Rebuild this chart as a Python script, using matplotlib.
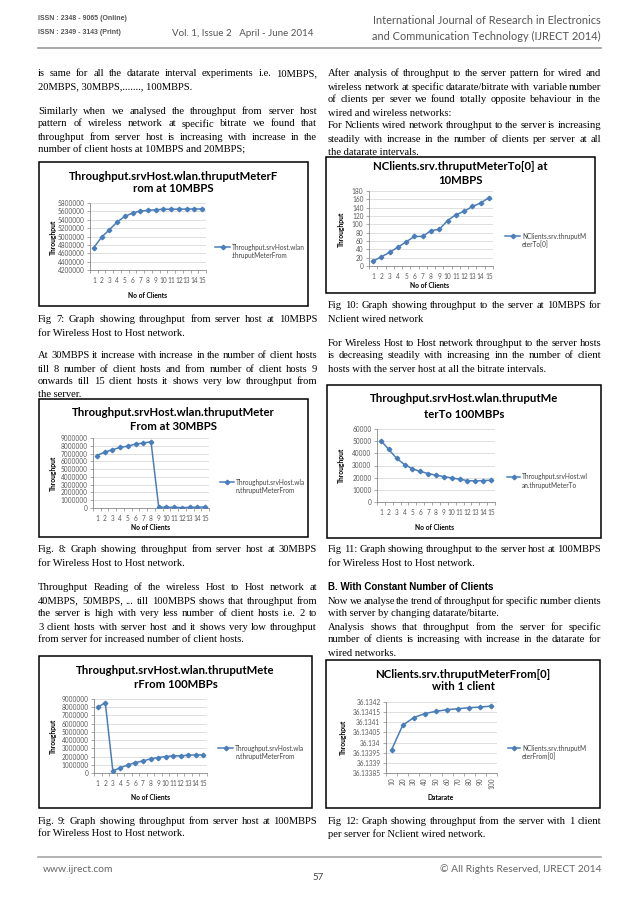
import matplotlib
matplotlib.use('Agg')
import matplotlib.pyplot as plt
from matplotlib.lines import Line2D
from matplotlib.patches import Rectangle
import numpy as np

# page size in pixels
W, H = 638, 902

# chart data
clients = list(range(1, 16))
from_10mbps = [4736000, 4984000, 5160000, 5344000, 5480000, 5560000, 5608000, 5624000,
               5640000, 5650000, 5652000, 5652000, 5655000, 5658000, 5658000]
to_10mbps_wired = [12, 22, 33, 45, 58, 71, 71, 85, 88, 109, 123, 131, 143, 151, 164]
from_30mbps = [6750000, 7180000, 7490000, 7790000, 7960000, 8220000, 8350000, 8520000,
               100000, 100000, 80000, 50000, 80000, 100000, 130000]
to_100mbps = [50400, 43200, 35800, 30800, 27300, 25100, 23400, 22000,
              20900, 19800, 18700, 17600, 17300, 17600, 17900]
from_100mbps = [8000000, 8550000, 250000, 650000, 980000, 1270000, 1470000, 1720000,
                1880000, 2000000, 2090000, 2090000, 2170000, 2200000, 2200000]
datarates = [10, 20, 30, 40, 50, 60, 70, 80, 90, 100]
from_1client = [36.133964, 36.134085, 36.134123, 36.134143, 36.134154,
                36.134162, 36.134167, 36.134172, 36.134175, 36.134180]

SERIF = 'Liberation Serif'
SANS = 'Lato'
BLUE = '#4a7ebb'
GREY = '#595959'
BODY = 8.0
MIN_GAP = 1.6

fig = plt.figure(figsize=(W / 100, H / 100), dpi=100)
renderer = fig.canvas.get_renderer()
body_lines = []   # (x, y, text, width or None)


def fx(x):
    return x / W


def fy(y):
    return 1 - y / H


def paragraph(x, ys, lines, width):
    # queue lines; all but the last are justified
    for i, (y, s) in enumerate(zip(ys, lines)):
        last = i == len(lines) - 1
        body_lines.append((x, y, s, None if last else width))


def word_widths(words, size):
    out = []
    for w in words:
        t = fig.text(0, 0, w, fontsize=size, family=SERIF)
        out.append(t.get_window_extent(renderer).width)
        t.remove()
    return out


def draw_body():
    # one font size for the whole page, small enough that every justified line fits
    size = BODY
    for x, y, s, width in body_lines:
        if width is None:
            continue
        words = s.split(' ')
        total = sum(word_widths(words, BODY))
        room = width - MIN_GAP * (len(words) - 1)
        size = min(size, BODY * room / total)
    for x, y, s, width in body_lines:
        if width is None:
            fig.text(fx(x), fy(y), s, fontsize=size, family=SERIF, va='center_baseline')
            continue
        words = s.split(' ')
        widths = word_widths(words, size)
        gap = (width - sum(widths)) / max(len(words) - 1, 1)
        pos = x
        for w, wd in zip(words, widths):
            fig.text(fx(pos), fy(y), w, fontsize=size, family=SERIF, va='center_baseline')
            pos += wd + gap


def hline(x0, x1, y, color, lw):
    fig.add_artist(Line2D([fx(x0), fx(x1)], [fy(y), fy(y)], transform=fig.transFigure,
                          color=color, lw=lw))


def chart(box, titles, title_ys, rect, cats, vals, ylim, step, fmt,
          ylab_xy, xlab_xy, leg, leg_text, xlabel='No of Clients', rotate=False):
    x0, y0, x1, y1 = box
    fig.add_artist(Rectangle((fx(x0), fy(y1)), (x1 - x0) / W, (y1 - y0) / H,
                             transform=fig.transFigure, fill=False, ec='black', lw=1.1))
    for t, ty in zip(titles, title_ys):
        fig.text(fx((x0 + x1) / 2), fy(ty), t, ha='center', va='center', fontsize=8.2,
                 family=SANS, fontweight='bold')
    l, r, t, b = rect
    ax = fig.add_axes([fx(l), fy(b), (r - l) / W, (b - t) / H])
    ax.patch.set_alpha(0)
    n = len(cats)
    ax.plot(range(n), vals, color=BLUE, lw=1.1, marker='D', ms=2.3, zorder=3)
    ax.set_xlim(-0.5, n - 0.5)
    ax.set_ylim(ylim)
    yt = np.arange(ylim[0], ylim[1] + step / 2, step)
    ax.set_yticks(yt)
    ax.set_yticklabels([fmt % v for v in yt], fontsize=4.7, color=GREY, family=SANS)
    ax.set_xticks(range(n))
    ax.set_xticklabels([str(c) for c in cats], fontsize=4.7, color=GREY, family=SANS,
                       rotation=90 if rotate else 0)
    ax.set_xticks(np.arange(-0.5, n), minor=True)
    ax.tick_params(axis='x', which='major', length=0, pad=3 if rotate else 5)
    ax.tick_params(axis='x', which='minor', length=2, width=0.5, color='#868686')
    ax.tick_params(axis='y', length=2, width=0.5, color='#868686', pad=2)
    ax.grid(axis='y', color='#d9d9d9', lw=0.6)
    ax.set_axisbelow(True)
    for s in ['top', 'right']:
        ax.spines[s].set_visible(False)
    for s in ['left', 'bottom']:
        ax.spines[s].set_color('#868686')
        ax.spines[s].set_linewidth(0.6)
    fig.text(fx(ylab_xy[0]), fy(ylab_xy[1]), 'Throughput', rotation=90, ha='center',
             va='center', fontsize=4.9, fontweight='bold', family=SANS)
    fig.text(fx(xlab_xy[0]), fy(xlab_xy[1]), xlabel, ha='center', va='center',
             fontsize=4.9, fontweight='bold', family=SANS)
    la, lb, ly = leg
    fig.add_artist(Line2D([fx(la), fx(lb)], [fy(ly), fy(ly)], transform=fig.transFigure,
                          color=BLUE, lw=1.1))
    fig.add_artist(Line2D([fx((la + lb) / 2)], [fy(ly)], transform=fig.transFigure,
                          color=BLUE, marker='D', ms=2.3))
    for i, s in enumerate(leg_text):
        fig.text(fx(lb + 2), fy(ly + i * 8.7), s, va='center', fontsize=4.7,
                 color='#404040', family=SANS)


# header
fig.text(fx(38), fy(19), 'ISSN : 2348 - 9065 (Online)', fontsize=5.0, fontweight='bold',
         color='#555555', family=['Liberation Sans Narrow', 'Liberation Sans'], va='center')
fig.text(fx(38), fy(32), 'ISSN : 2349 - 3143 (Print)', fontsize=5.0, fontweight='bold',
         color='#555555', family=['Liberation Sans Narrow', 'Liberation Sans'], va='center')
fig.text(fx(172), fy(34), 'Vol. 1, Issue 2   April - June 2014', fontsize=7.0,
         color='#555555', family=SANS, va='center')
fig.text(fx(601), fy(20), 'International Journal of Research in Electronics', fontsize=7.9,
         color='#555555', family=SANS, va='center', ha='right')
fig.text(fx(601), fy(36), 'and Communication Technology (IJRECT 2014)', fontsize=7.9,
         color='#555555', family=SANS, va='center', ha='right')
hline(38, 601, 48, '#9a9a9a', 1.2)

# left column text
LX, LW = 38, 279
paragraph(LX, [73, 86], ['is same for all the datarate interval experiments i.e. 10MBPS,',
                         '20MBPS, 30MBPS,......., 100MBPS.'], LW)
paragraph(LX, [110, 123, 136, 149],
          ['Similarly when we analysed the throughput from server host',
           'pattern of wireless network at specific bitrate we found that',
           'throughput from server host is increasing with increase in the',
           'number of client hosts at 10MBPS and 20MBPS;'], LW)
paragraph(LX, [319, 332], ['Fig 7: Graph showing throughput from server host at 10MBPS',
                           'for Wireless Host to Host network.'], LW)
paragraph(LX, [355, 368, 381, 394],
          ['At 30MBPS it increase with increase in the number of client hosts',
           'till 8 number of client hosts and from number of client hosts 9',
           'onwards till 15 client hosts it shows very low throughput from',
           'the server.'], LW)
paragraph(LX, [549, 562], ['Fig. 8: Graph showing throughput from server host at 30MBPS',
                           'for Wireless Host to Host network.'], LW)
paragraph(LX, [587, 600, 613, 626, 639],
          ['Throughput Reading of the wireless Host to Host network at',
           '40MBPS, 50MBPS, ... till 100MBPS shows that throughput from',
           'the server is high with very less number of client hosts i.e. 2 to',
           '3 client hosts with server host and it shows very low throughput',
           'from server for increased number of client hosts.'], LW)
paragraph(LX, [820, 833], ['Fig. 9: Graph showing throughput from server host at 100MBPS',
                           'for Wireless Host to Host network.'], LW)

# right column text
RX, RW = 328, 273
paragraph(RX, [73, 86, 99, 112],
          ['After analysis of throughput to the server pattern for wired and',
           'wireless network at specific datarate/bitrate with variable number',
           'of clients per sever we found totally opposite behaviour in the',
           'wired and wireless networks:'], RW)
paragraph(RX, [125, 138, 151],
          ['For Nclients wired network throughput to the server is increasing',
           'steadily with increase in the number of clients per server at all',
           'the datarate intervals.'], RW)
paragraph(RX, [305, 318], ['Fig 10: Graph showing throughput to the server at 10MBPS for',
                           'Nclient wired network'], RW)
paragraph(RX, [342, 355, 368],
          ['For Wireless Host to Host network throughput to the server hosts',
           'is decreasing steadily with increasing inn the number of client',
           'hosts with the server host at all the bitrate intervals.'], RW)
paragraph(RX, [549, 562], ['Fig 11: Graph showing throughput to the server host at 100MBPS',
                           'for Wireless Host to Host network.'], RW)
fig.text(fx(RX), fy(586), 'B. With Constant Number of Clients', fontsize=7.0,
         fontweight='bold', family='Liberation Sans', va='center_baseline')
paragraph(RX, [600, 613],
          ['Now we analyse the trend of throughput for specific number clients',
           'with server by changing datarate/bitarte.'], RW)
paragraph(RX, [626, 639, 652],
          ['Analysis shows that throughput from the server for specific',
           'number of clients is increasing with increase in the datarate for',
           'wired networks.'], RW)
paragraph(RX, [820, 833], ['Fig 12: Graph showing throughput from the server with 1 client',
                           'per server for Nclient wired network.'], RW)
draw_body()

# charts
chart((39, 162, 308, 306), ['Throughput.srvHost.wlan.thruputMeterF', 'rom at 10MBPS'],
      [176, 189], (90, 206, 203, 270), clients, from_10mbps, (4200000, 5800000), 200000,
      '%d', (53, 237), (148, 295), (215, 230, 247),
      ['Throughput.srvHost.wlan', '.thruputMeterFrom'])
chart((326, 157, 595, 293), ['NClients.srv.thruputMeterTo[0] at', '10MBPS'],
      [167, 180], (369, 493, 191, 266), clients, to_10mbps_wired, (0, 180), 20,
      '%d', (341, 229), (430, 285), (505, 520, 236),
      ['NClients.srv.thruputM', 'eterTo[0]'])
chart((39, 399, 308, 537), ['Throughput.srvHost.wlan.thruputMeter', 'From at 30MBPS'],
      [413, 427], (93, 209, 438, 508), clients, from_30mbps, (0, 9000000), 1000000,
      '%d', (53, 473), (151, 528), (220, 234, 482),
      ['Throughput.srvHost.wla', 'n.thruputMeterFrom'])
chart((327, 385, 601, 538), ['Throughput.srvHost.wlan.thruputMe', 'terTo 100MBPs'],
      [399, 415], (377, 495, 429, 502), clients, to_100mbps, (0, 60000), 10000,
      '%d', (341, 465), (435, 527), (507, 520, 477),
      ['Throughput.srvHost.wl', 'an.thruputMeterTo'])
chart((39, 656, 312, 808), ['Throughput.srvHost.wlan.thruputMete', 'rFrom 100MBPs'],
      [670, 685], (94, 207, 699, 773), clients, from_100mbps, (0, 9000000), 1000000,
      '%d', (53, 736), (151, 797), (218, 233, 748),
      ['Throughput.srvHost.wla', 'n.thruputMeterFrom'])
chart((326, 660, 600, 808), ['NClients.srv.thruputMeterFrom[0]', 'with 1 client'],
      [674, 687], (386, 497, 702, 773), datarates, from_1client, (36.13385, 36.1342),
      0.00005, '%.7g', (343, 737), (441, 797), (508, 520, 748),
      ['NClients.srv.thruputM', 'eterFrom[0]'], xlabel='Datarate', rotate=True)

# footer
hline(38, 601, 857, '#a6a6a6', 1.2)
fig.text(fx(43), fy(869), 'www.ijrect.com', fontsize=7.4, color='#666666', family=SANS,
         va='center')
fig.text(fx(318), fy(878), '57', fontsize=7.0, color='#444444', family=SANS, va='center',
         ha='center')
fig.text(fx(601), fy(869), '\u00a9 All Rights Reserved, IJRECT 2014', fontsize=7.4,
         color='#666666', family=SANS, va='center', ha='right')

fig.savefig('out.png', dpi=100)
